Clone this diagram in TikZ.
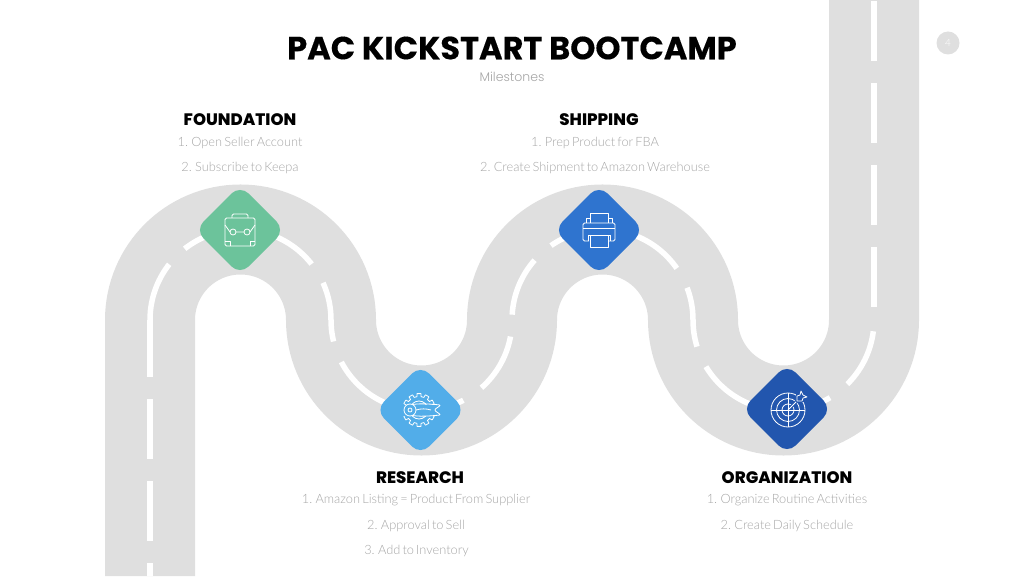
\documentclass[tikz,border=0pt]{standalone}
\usepackage{fontspec}
\setmainfont{Lato Light}[WordSpace=0.62]
\newfontfamily\headfont{Poppins ExtraBold}
\newfontfamily\titlefont{Poppins}[UprightFont=* Bold,FakeBold=0.35]
\newfontfamily\lightfont{Poppins Light}
\usepackage{xcolor}
\definecolor{roadgrey}{HTML}{DFDFDF}
\definecolor{textgrey}{HTML}{A6A6A6}
\definecolor{foundgreen}{HTML}{6CC39B}
\definecolor{researchblue}{HTML}{52ADE9}
\definecolor{shipblue}{HTML}{2F74CF}
\definecolor{orgblue}{HTML}{2256AE}
\newcommand{\roadarcs}{(150,256)
	arc[start angle=180,end angle=0,radius=90.5]
	arc[start angle=180,end angle=360,radius=90.5]
	arc[start angle=180,end angle=0,radius=90.5]
	arc[start angle=180,end angle=360,radius=90.5]}
\begin{document}
\begin{tikzpicture}[x=1pt,y=1pt,
		every node/.style={align=center,inner sep=0pt},
		heading/.style={font=\headfont\fontsize{16.6}{16.6}\selectfont,text=black},
		item/.style={font=\fontsize{12.8}{12.8}\selectfont,text=textgrey},
		milestone/.style={draw=none,rounded corners=12pt,fill=#1},
		icon/.style={draw=white,line width=.8pt,line join=round,fill=none},
		marking/.style={white,line width=5.5pt,dash pattern=on 60pt off 22pt},
	]
	\useasboundingbox (0,0) rectangle (1024,576);

	% road
	\draw[roadgrey,line width=90pt] (150,0) -- \roadarcs -- (874,576);
	\draw[marking,dash phase=3pt] (150,256) -- (150,0);
	\draw[marking] \roadarcs;
	\draw[marking] (874,269) -- (874,576);

	% header
	\node (title) at (512,528) {\titlefont\fontsize{32}{32}\selectfont PAC KICKSTART BOOTCAMP};
	\node (subtitle) [text=textgrey] at (512,499) {\lightfont\fontsize{12.5}{12.5}\selectfont Milestones};
	\node (page) [circle,fill=roadgrey,minimum size=23pt,text=white,font=\fontsize{10}{10}\selectfont] at (948,533) {4};

	% diamonds
	\draw[milestone=foundgreen] (240,391) -- (285,346) -- (240,301) -- (195,346) -- cycle;
	\draw[milestone=researchblue] (420.5,211) -- (465.5,166) -- (420.5,121) -- (375.5,166) -- cycle;
	\draw[milestone=shipblue] (599,391) -- (644,346) -- (599,301) -- (554,346) -- cycle;
	\draw[milestone=orgblue] (787,212) -- (832,167) -- (787,122) -- (742,167) -- cycle;

	% briefcase
	\begin{scope}[shift={(240,346)}]
		\draw[icon,rounded corners=1.5pt] (-15,12) rectangle (15,-16);
		\draw[icon,rounded corners=1.5pt] (-8,12) -- (-8,16) -- (8,16) -- (8,12);
		\draw[icon] (-15,5) -- (-10,-2) (-4,-2) -- (4,-2) (10,-2) -- (15,5);
		\draw[icon] (-7,-2) circle (3) (7,-2) circle (3);
		\draw[icon] (-15,-11) -- (-10,-11) -- (-10,-16) (15,-11) -- (10,-11) -- (10,-16);
	\end{scope}

	% gear and wrench
	\begin{scope}[shift={(419,166)}]
		\foreach \a in {0,30,...,330}
			\draw[icon] (\a-7:16.5) -- (\a+7:16.5) -- (\a+9:13.5) -- (\a+21:13.5) -- (\a+23:16.5);
		\draw[icon] (0,0) circle (9);
		\fill[researchblue] (-17,-5.5) rectangle (23,5.5);
		\draw[icon,rounded corners=2pt] (-9,5) .. controls (0,7) and (10,6) .. (22,5) -- (15,0) -- (22,-5) .. controls (10,-6) and (0,-7) .. (-9,-5);
		\fill[researchblue] (-9,0) circle (6);
		\draw[icon] (-9,0) circle (6) (-9,0) circle (2);
		\draw[icon] (-3,0) .. controls (2,1.5) and (7,1.5) .. (12,0);
	\end{scope}

	% printer
	\begin{scope}[shift={(599,346)}]
		\draw[icon] (-9,7) -- (-9,17) -- (9,17) -- (9,7);
		\draw[icon] (-9,12) -- (-13,12) -- (-13,7) (9,12) -- (13,12) -- (13,7);
		\draw[icon,rounded corners=1.5pt] (-10,-11) -- (-16,-11) -- (-16,7) -- (16,7) -- (16,-11) -- (10,-11);
		\draw[icon] (-16,2) -- (16,2);
		\draw[icon] (-11,-5) -- (11,-5);
		\draw[icon] (-9,-5) rectangle (9,-17);
		\draw[icon] (-11,-5) -- (-11,-11) (11,-5) -- (11,-11);
	\end{scope}

	% target
	\begin{scope}[shift={(788,166)}]
		\draw[icon] (0,0) circle (17) (0,0) circle (11.5) (0,0) circle (6);
		\draw[icon] (0,-17) -- (0,17) (-17,0) -- (17,0);
		\draw[orgblue,line width=3pt] (3,3) -- (11,11);
		\draw[icon] (0,0) -- (11,11);
		\fill[orgblue] (8,8) -- (8,18) -- (18,18) -- (18,8) -- cycle;
		\draw[icon] (9,9) -- (9,14) -- (12,15) -- (13,19) -- (15,15) -- (19,13) -- (15,12) -- (14,9) -- cycle;
	\end{scope}

	% labels
	\node (foundation) [heading] at (240,456) {FOUNDATION};
	\node (foundationa) [item] at (240,433.5) {1. Open Seller Account};
	\node (foundationb) [item] at (240,408.5) {2. Subscribe to Keepa};

	\node (shipping) [heading] at (599,456) {SHIPPING};
	\node (shippinga) [item] at (595,433.5) {1. Prep Product for FBA};
	\node (shippingb) [item] at (595,408.5) {2. Create Shipment to Amazon Warehouse};

	\node (research) [heading] at (420,98) {RESEARCH};
	\node (researcha) [item] at (416,75.5) {1. Amazon Listing = Product From Supplier};
	\node (researchb) [item] at (416,50.5) {2. Approval to Sell};
	\node (researchc) [item] at (416.5,25.5) {3. Add to Inventory};

	\node (organization) [heading] at (787,98) {ORGANIZATION};
	\node (organizationa) [item] at (787,75.5) {1. Organize Routine Activities};
	\node (organizationb) [item] at (787,50.5) {2. Create Daily Schedule};
\end{tikzpicture}
\end{document}
